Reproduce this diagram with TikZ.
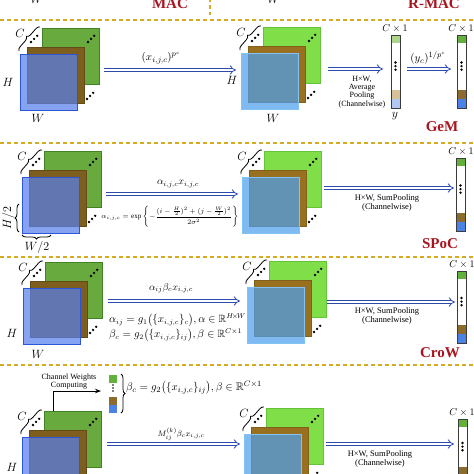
\documentclass[tikz,border=0pt]{standalone}
\usepackage{amsmath,amssymb}
\usepackage{fontspec}
\setmainfont{Liberation Serif}
\usetikzlibrary{arrows.meta,decorations.pathreplacing,calc,positioning}

\definecolor{gA}{RGB}{104,170,62}
\definecolor{gAd}{RGB}{66,130,38}
\definecolor{gB}{RGB}{128,222,72}
\definecolor{gBd}{RGB}{100,196,55}
\definecolor{brA}{RGB}{126,94,30}
\definecolor{brAd}{RGB}{100,74,22}
\definecolor{brB}{RGB}{152,112,32}
\definecolor{brBd}{RGB}{130,95,25}
\definecolor{buA}{RGB}{88,128,235}
\definecolor{buAd}{RGB}{45,85,215}
\definecolor{buB}{RGB}{78,160,238}
\definecolor{buBd}{RGB}{130,195,245}
\definecolor{pg}{RGB}{172,214,142}
\definecolor{po}{RGB}{214,194,150}
\definecolor{pb}{RGB}{176,200,242}
\definecolor{sg}{RGB}{100,176,60}
\definecolor{so}{RGB}{140,108,44}
\definecolor{sb}{RGB}{76,130,230}
\definecolor{pipeblue}{RGB}{45,75,175}
\definecolor{gold}{RGB}{215,170,35}
\definecolor{tred}{RGB}{170,20,30}
\definecolor{vgray}{RGB}{60,60,60}

% three diagonal dots
\newcommand{\tdots}[2]{\foreach \k in {0,1,2}{\fill ($(#1)+(#2)+(3.1*\k,-3.1*\k)$) circle (1.3pt);}}
% three vertical dots
\newcommand{\coldots}[2]{\foreach \k in {0,1,2}{\fill ({#1},{#2+3.6*\k}) circle (1.3pt);}}
% feature map: name, x, y of green channel, palette
\newcommand{\fmap}[4]{%
  \node[grn#4] (#1g) at (#2,#3) {};
  \node[brn#4] (#1b) at ($(#1g.north west)+(-15,19)$) {};
  \node[blu#4] (#1u) at ($(#1g.north west)+(-22,26)$) {};
  \draw[brc] ($(#1u.north west)+(-1,-3)$) -- ($(#1g.north west)+(-2,-1)$);
  \node[dimlbl] (#1c) at ($(#1g.north west)+(-22,5)$) {$C$};
  \tdots{#1g.north west}{-11,14}
  \tdots{#1g.north west}{46,14}
  \tdots{#1g.north west}{45,71}
}
% pooled vector: name, x, top, bottom, palette
\newcommand{\cvec}[5]{%
  \fill[#5g] ({#2},{#3}) rectangle ({#2+9},{#3+8});
  \fill[#5o] ({#2},{#4-18}) rectangle ({#2+9},{#4-9});
  \fill[#5b] ({#2},{#4-9}) rectangle ({#2+9},{#4});
  \coldots{#2+4.5}{0.5*#3+0.5*#4-9}
  \node[vec, minimum height=#4-#3] (#1) at (#2,#3) {};
}

\begin{document}
\begin{tikzpicture}[x=1pt, y=-1pt,
    sq/.style={rectangle, minimum width=57pt, minimum height=56pt,
               inner sep=0pt, anchor=north west, line width=0.9pt},
    grnA/.style={sq, fill=gA, draw=gAd},
    brnA/.style={sq, fill=brA, draw=brAd},
    bluA/.style={sq, fill=buA, fill opacity=0.72, draw=buAd},
    grnB/.style={sq, fill=gB, draw=gBd},
    brnB/.style={sq, fill=brB, draw=brBd},
    bluB/.style={sq, fill=buB, fill opacity=0.72, draw=buBd},
    wsq/.style={rectangle, minimum width=8pt, minimum height=8pt, inner sep=0pt, anchor=north west},
    vec/.style={rectangle, draw=vgray, line width=0.8pt, minimum width=9pt,
                inner sep=0pt, anchor=north west},
    pipe/.style={draw=pipeblue, double=white, double distance=2.4pt, line width=0.8pt, -{Implies}},
    sep/.style={draw=gold, dash pattern=on 4pt off 3pt, line width=1.5pt},
    ttl/.style={text=tred, font=\bfseries\fontsize{15}{15}\selectfont},
    note/.style={font=\fontsize{8.5}{8.3}\selectfont, align=center, inner sep=0pt},
    eq/.style={font=\fontsize{10}{11}\selectfont, inner sep=0pt},
    dimlbl/.style={font=\fontsize{12}{12}\selectfont, inner sep=0pt},
    brc/.style={decorate, decoration={brace, amplitude=4pt}, line width=0.8pt}]
    \useasboundingbox (0,0) rectangle (474,474);
    \clip (0,0) rectangle (474,474);

    % Titles and separators
    \node[ttl, anchor=base] (mac)  at (170,8) {MAC};
    \node[ttl, anchor=base] (rmac) at (434,8) {R-MAC};
    \node[dimlbl, anchor=base] (wtop1) at (37,3)  {$W$};
    \node[dimlbl, anchor=base] (wtop2) at (274,3) {$W$};
    \draw[sep] (210,-2) -- (210,15);
    \draw[sep] (0,20) -- (474,20);
    \draw[sep] (0,143) -- (474,143);
    \draw[sep] (0,257) -- (474,257);
    \draw[sep] (0,365) -- (474,365);

    % GeM
    \fmap{ga}{42}{28}{A}
    \fmap{gb}{263}{27}{B}
    \node[dimlbl] (gah) at (8,82)    {$H$};
    \node[dimlbl] (gaw) at (38,118)  {$W$};
    \node[dimlbl] (gbh) at (232,80)  {$H$};
    \node[dimlbl] (gbw) at (273,118) {$W$};
    \cvec{gy}{391}{35}{108}{p}
    \cvec{gz}{457}{35}{108}{s}
    \node[eq] (gyc) at (395,28) {$C\times 1$};
    \node[eq] (gzc) at (461,28) {$C\times 1$};
    \node[dimlbl] (gyl) at (395,116) {$y$};
    \coordinate (g1s) at (104,70);
    \coordinate (g1e) at (236,70);
    \coordinate (g2s) at (328,69);
    \coordinate (g2e) at (383,69);
    \coordinate (g3s) at (407,69);
    \coordinate (g3e) at (451,69);
    \draw[pipe] (g1s) -- (g1e);
    \draw[pipe] (g2s) -- (g2e);
    \draw[pipe] (g3s) -- (g3e);
    \node[eq, font=\fontsize{11}{12}\selectfont] (gex) at (161,58) {$(x_{i,j,c})^{p^c}$};
    \node[note, font=\fontsize{8}{8.3}\selectfont] (gpool) at (362,92) {H×W,\\Average\\Pooling\\(Channelwise)};
    \node[eq, font=\fontsize{11}{12}\selectfont] (gey) at (428,58) {$(y_c)^{1/p^c}$};
    \node[ttl] (gem) at (442,127) {GeM};

    % SPoC
    \fmap{sa}{44}{151}{A}
    \fmap{sb}{264}{151}{B}
    \draw[brc] (19,232) -- (19,204);
    \node[dimlbl, rotate=90] (sah) at (8,218) {$H/2$};
    \draw[brc] (51,235) -- (22,235);
    \node[dimlbl] (saw) at (37,247) {$W/2$};
    \cvec{sv}{456}{158}{231}{s}
    \node[eq] (svc) at (461,151) {$C\times 1$};
    \coordinate (s1s) at (106,194);
    \coordinate (s1e) at (238,194);
    \coordinate (s2s) at (324,188);
    \coordinate (s2e) at (454,188);
    \draw[pipe] (s1s) -- (s1e);
    \draw[pipe] (s2s) -- (s2e);
    \node[eq] (sex) at (178,184) {$\alpha_{i,j,c}x_{i,j,c}$};
    \node[eq, font=\fontsize{7}{8}\selectfont] (sfm) at (170,217)
        {$\displaystyle\alpha_{i,j,c}=\exp\left\{-\frac{(i-\frac{H}{2})^2+(j-\frac{W}{2})^2}{2\sigma^2}\right\}$};
    \node[note] (spool) at (387,203) {H×W, SumPooling\\(Channelwise)};
    \node[ttl] (spoc) at (440,244) {SPoC};

    % CroW
    \fmap{ca}{45}{262}{A}
    \fmap{cb}{269}{261}{B}
    \node[dimlbl] (cah) at (12,333) {$H$};
    \node[dimlbl] (caw) at (38,354) {$W$};
    \cvec{cv}{457}{271}{343}{s}
    \node[eq] (cvc) at (462,264) {$C\times 1$};
    \coordinate (c1s) at (108,301);
    \coordinate (c1e) at (240,301);
    \coordinate (c2s) at (327,302);
    \coordinate (c2e) at (455,302);
    \draw[pipe] (c1s) -- (c1e);
    \draw[pipe] (c2s) -- (c2e);
    \node[eq] (cex) at (171,288) {$\alpha_{ij}\beta_c x_{i,j,c}$};
    \node[eq, anchor=west, font=\fontsize{10.5}{12}\selectfont] (cal) at (109,320)
        {$\alpha_{ij}=g_1\big(\{x_{i,j,c}\}_c\big),\alpha\in\mathbb{R}^{H\!\times\! W}$};
    \node[eq, anchor=west, font=\fontsize{10.5}{12}\selectfont] (cbe) at (109,335)
        {$\beta_c=g_2\big(\{x_{i,j,c}\}_{ij}\big),\beta\in\mathbb{R}^{C\times 1}$};
    \node[note] (cpool) at (387,316) {H×W, SumPooling\\(Channelwise)};
    \node[ttl] (crow) at (440,353) {CroW};

    % Channel weighting
    \node[note, font=\fontsize{8}{8}\selectfont] (cw) at (69,382) {Channel Weights\\Computing};
    \node[wsq, fill=sg] (wg) at (109,375) {};
    \node[wsq, fill=so] (wo) at (109,397) {};
    \node[wsq, fill=sb] (wb) at (109,405) {};
    \foreach \k in {0,1,2}{\fill (113,{385+3*\k}) circle (0.9pt);}
    \draw[brc] (121,374) -- (121,413);
    \node[eq, anchor=west, font=\fontsize{11}{12}\selectfont] (kbe) at (126,388)
        {$\beta_c=g_2\big(\{x_{i,j,c}\}_{ij}\big),\beta\in\mathbb{R}^{C\times 1}$};
    \fmap{ka}{44}{411}{A}
    \fmap{kb}{266}{408}{B}
    \node[dimlbl] (kah) at (12,467) {$H$};
    \cvec{kv}{458}{419}{485}{s}
    \node[eq] (kvc) at (462,412) {$C\times 1$};
    \coordinate (kup) at (53,411);
    \coordinate (kto) at (101,391);
    \draw[line width=0.8pt, -{Stealth[length=6pt]}] (kup) |- (kto);
    \coordinate (k1s) at (107,444);
    \coordinate (k1e) at (240,444);
    \coordinate (k2s) at (326,444);
    \coordinate (k2e) at (454,444);
    \draw[pipe] (k1s) -- (k1e);
    \draw[pipe] (k2s) -- (k2e);
    \node[eq, font=\fontsize{8}{9}\selectfont] (kex) at (181,434) {$M_{ij}^{(k)}\beta_c x_{i,j,c}$};
    \node[note] (kpool) at (380,459) {H×W, SumPooling\\(Channelwise)};
\end{tikzpicture}
\end{document}
